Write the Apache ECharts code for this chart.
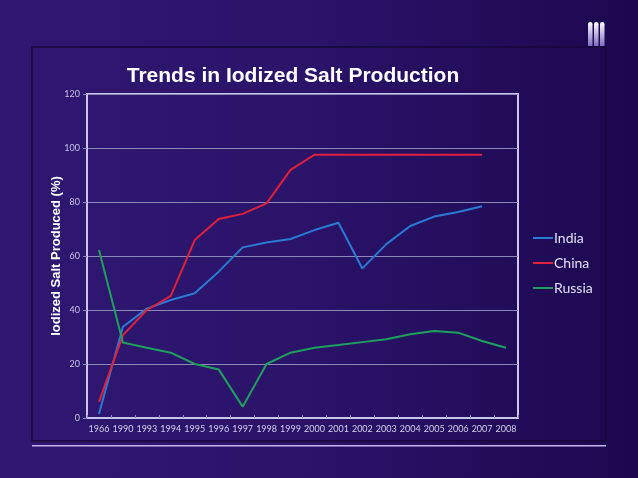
<!DOCTYPE html>
<html>
<head>
<meta charset="utf-8">
<script src="https://cdn.jsdelivr.net/npm/echarts@6/dist/echarts.min.js"></script>
<style>
html, body { margin: 0; padding: 0; }
#chart { width: 638px; height: 478px; }
</style>
</head>
<body>
<div id="chart"></div>
<script>
var years = ['1966', '1990', '1993', '1994', '1995', '1996', '1997', '1998', '1999', '2000', '2001', '2002', '2003', '2004', '2005', '2006', '2007', '2008'];
var india = [1.5, 33.8, 40.5, 43.7, 46.2, 54.2, 63.2, 65, 66.3, 69.6, 72.3, 55.4, 64.4, 71.1, 74.6, 76.3, 78.4, null];
var china = [6, 30.7, 40, 45.2, 65.9, 73.7, 75.6, 79.5, 91.9, 97.5, 97.5, 97.5, 97.5, 97.5, 97.5, 97.5, 97.5, null];
var russia = [62.2, 28, 26, 24.2, 20, 18, 4.2, 20, 24.2, 26, 27, 28.1, 29.2, 31, 32.2, 31.6, 28.5, 26];
var yTicks = [0, 20, 40, 60, 80, 100, 120];

var chart = echarts.init(document.getElementById('chart'));

function lineSeries(name, data, color) {
    return {
        name: name,
        type: 'line',
        data: data,
        symbol: 'none',
        lineStyle: { color: color, width: 2 },
        itemStyle: { color: color }
    };
}

var option = {
    backgroundColor: {
        type: 'linear', x: 0, y: 0, x2: 1, y2: 0,
        colorStops: [
            { offset: 0, color: '#2f1872' },
            { offset: 0.5, color: '#2a1368' },
            { offset: 1, color: '#1c0850' }
        ]
    },
    animation: false,
    textStyle: { fontFamily: 'Lato, sans-serif' },
    title: {
        text: 'Trends in Iodized Salt Production',
        left: 288,
        textAlign: 'center',
        top: 61,
        textStyle: {
            color: '#ffffff',
            fontFamily: '"Liberation Sans", Arial, sans-serif',
            fontWeight: 'bold',
            fontSize: 21
        }
    },
    legend: {
        orient: 'vertical',
        left: 528,
        top: 226,
        itemWidth: 20,
        itemHeight: 2,
        itemGap: 11,
        icon: 'rect',
        textStyle: { color: '#e4e0f4', fontSize: 14, fontFamily: 'Lato, sans-serif', padding: [0, 0, 0, -4] },
        data: ['India', 'China', 'Russia']
    },
    graphic: [
        {
            type: 'rect',
            shape: { x: 32, y: 47, width: 574, height: 394 },
            style: { fill: 'rgba(0,0,0,0)', stroke: '#160838', lineWidth: 1.5 },
            z: -1
        },
        {
            type: 'rect',
            shape: { x: 32, y: 445, width: 574, height: 1.5 },
            style: { fill: '#c4b6ee' }
        },
        {
            type: 'group',
            left: 588,
            top: 22,
            children: [0, 1, 2].map(function (i) {
                return {
                    type: 'rect',
                    shape: { x: i * 6, y: 0, width: 4.5, height: 24, r: [2.2, 2.2, 0, 0] },
                    style: {
                        fill: {
                            type: 'linear', x: 0, y: 0, x2: 0, y2: 1,
                            colorStops: [
                                { offset: 0, color: '#ffffff' },
                                { offset: 1, color: '#7e6cc0' }
                            ]
                        }
                    }
                };
            })
        }
    ],
    grid: {
        left: 87,
        right: 120,
        top: 94,
        bottom: 60,
        show: true,
        borderColor: '#c8c6ea',
        borderWidth: 2
    },
    xAxis: {
        type: 'category',
        data: years,
        boundaryGap: true,
        axisLine: { lineStyle: { color: '#c8c6ea', width: 2 } },
        axisTick: { show: true, inside: true, length: 3, lineStyle: { color: '#8c84c0' } },
        axisLabel: { color: '#d4d0ec', fontSize: 9, margin: 7, interval: 0, hideOverlap: false, fontFamily: 'Lato, sans-serif' }
    },
    yAxis: {
        type: 'value',
        min: 0,
        max: 120,
        interval: 20,
        name: 'Iodized Salt Produced (%)',
        nameLocation: 'middle',
        nameGap: 24,
        nameMoveOverlap: false,
        nameTextStyle: {
            color: '#ffffff',
            fontFamily: '"Liberation Sans", Arial, sans-serif',
            fontWeight: 'bold',
            fontSize: 13
        },
        axisLine: { show: true, lineStyle: { color: '#c8c6ea', width: 2 } },
        axisTick: { show: true, length: 4, lineStyle: { color: '#8c84c0' } },
        axisLabel: {
            color: '#c8c4e4',
            fontSize: 9,
            margin: 7,
            fontFamily: 'Lato, sans-serif',
            formatter: function (v) { return yTicks.indexOf(v) >= 0 ? String(v) : ''; }
        },
        splitLine: { lineStyle: { color: '#8e88b8', width: 1 } }
    },
    series: [
        lineSeries('India', india, '#2a7ad6'),
        lineSeries('China', china, '#e0203c'),
        lineSeries('Russia', russia, '#1fa05e')
    ]
};

chart.setOption(option);
</script>
</body>
</html>
